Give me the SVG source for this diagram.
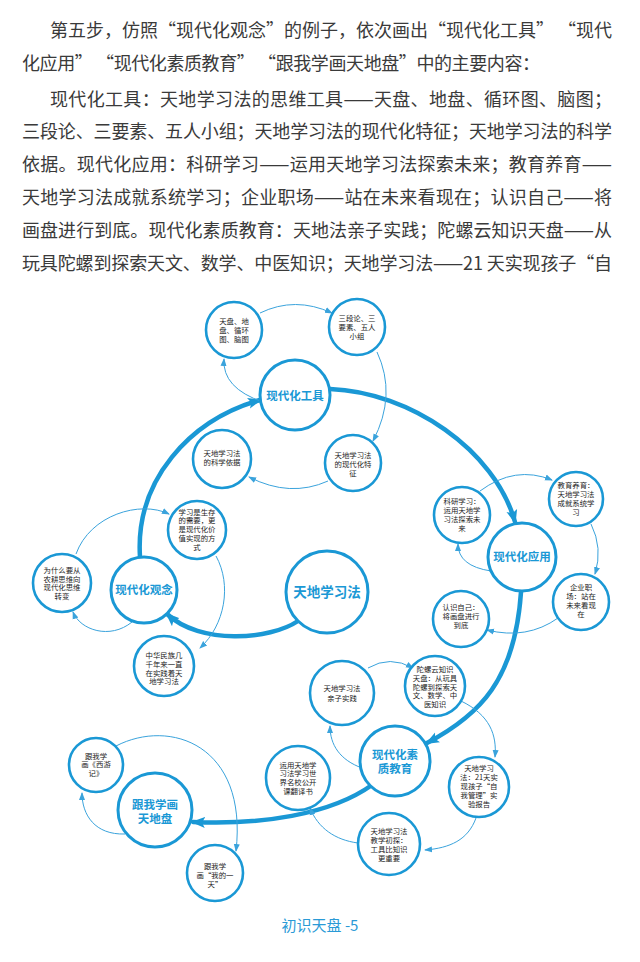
<svg xmlns="http://www.w3.org/2000/svg" width="640" height="962" viewBox="0 0 640 962">
<defs>
<style>
.para{font-family:"Noto Sans CJK SC","Liberation Serif",serif;font-size:18px;fill:#3a3a3a;}
.hub{fill:#fff;stroke:#1a98d5;stroke-width:3;}
.leaf{fill:#fff;stroke:#1a98d5;stroke-width:2.6;}
.ht{font-family:"Noto Sans CJK SC",sans-serif;font-weight:bold;font-size:11.5px;fill:#1a98d5;text-anchor:middle;}
.lt{font-family:"Noto Sans CJK SC",sans-serif;font-size:7.4px;fill:#1a1a1a;text-anchor:middle;}
.thin{fill:none;stroke:#3aa3dc;stroke-width:1;marker-end:url(#ah);}
.thick{fill:none;stroke:#1a98d5;stroke-width:4.5;stroke-linecap:round;marker-end:url(#AH);}
.foot{font-family:"Noto Sans CJK SC",sans-serif;font-size:15px;fill:#2a9ad6;}
</style>
<marker id="ah" markerUnits="userSpaceOnUse" markerWidth="8" markerHeight="8" viewBox="0 0 8 8" refX="7" refY="4" orient="auto"><path d="M0,1 L8,4 L0,7 Z" fill="#3aa3dc"/></marker>
<marker id="AH" markerUnits="userSpaceOnUse" markerWidth="14" markerHeight="12" viewBox="0 0 14 12" refX="12" refY="6" orient="auto"><path d="M0,0.5 L14,6 L0,11.5 L3,6 Z" fill="#1a98d5"/></marker>
</defs>
<rect width="640" height="962" fill="#fff"/>

<g id="paragraph">
<text class="para" x="50" y="37" textLength="562" lengthAdjust="spacing">第五步，仿照“现代化观念”的例子，依次画出“现代化工具”  “现代</text>
<text class="para" x="22" y="70" textLength="518" lengthAdjust="spacing">化应用”  “现代化素质教育”  “跟我学画天地盘”中的主要内容：</text>
<text class="para" x="50" y="106" textLength="562" lengthAdjust="spacing">现代化工具：天地学习法的思维工具——天盘、地盘、循环图、脑图；</text>
<text class="para" x="22" y="138" textLength="590" lengthAdjust="spacing">三段论、三要素、五人小组；天地学习法的现代化特征；天地学习法的科学</text>
<text class="para" x="22" y="171" textLength="590" lengthAdjust="spacing">依据。现代化应用：科研学习——运用天地学习法探索未来；教育养育——</text>
<text class="para" x="22" y="204" textLength="590" lengthAdjust="spacing">天地学习法成就系统学习；企业职场——站在未来看现在；认识自己——将</text>
<text class="para" x="22" y="237" textLength="590" lengthAdjust="spacing">画盘进行到底。现代化素质教育：天地法亲子实践；陀螺云知识天盘——从</text>
<text class="para" x="22" y="270" textLength="590" lengthAdjust="spacing">玩具陀螺到探索天文、数学、中医知识；天地学习法——21 天实现孩子“自</text>
</g>

<g id="connectors">
<!-- main spiral -->
<path class="thick" d="M298,621 C270,640 200,645 167,614"/>
<path class="thick" d="M140,557 C135,480 190,420 260,400"/>
<path class="thick" d="M330,389 C410,392 495,450 515,522"/>
<path class="thick" d="M521,592 C515,680 480,715 427,743"/>
<path class="thick" d="M372,785 C330,815 260,825 193,822"/>
<!-- tools cycle -->
<path class="thin" d="M260,313 Q295,296 332,313"/>
<path class="thin" d="M377,352 Q397,395 373,441"/>
<path class="thin" d="M328,481 Q290,498 249,477"/>
<path class="thin" d="M263,402 Q222,388 224,359"/>
<!-- application cycle -->
<path class="thin" d="M480,491 Q515,465 552,480"/>
<path class="thin" d="M591,524 Q603,548 595,574"/>
<path class="thin" d="M558,618 Q527,640 487,630"/>
<path class="thin" d="M491,571 Q458,566 458,544"/>
<!-- concept cycle -->
<path class="thin" d="M76,554 C90,515 140,500 169,514"/>
<path class="thin" d="M216,556 C232,585 225,625 200,648"/>
<path class="thin" d="M132,622 C110,640 80,630 73,612"/>
<!-- quality education cycle -->
<path class="thin" d="M368,668 Q390,655 413,668"/>
<path class="thin" d="M461,701 C490,715 497,735 495,757"/>
<path class="thin" d="M476,818 C468,840 450,848 425,850"/>
<path class="thin" d="M358,843 C335,840 318,828 310,808"/>
<path class="thin" d="M362,768 C340,760 330,745 330,726"/>
<!-- drawing cycle -->
<path class="thin" d="M125,834 C95,835 82,815 82,793"/>
<path class="thin" d="M116,746 C170,718 248,745 236,851"/>
</g>

<g id="n-tdxxf"><circle class="hub" cx="327" cy="592" r="41"/><text class="ht" x="327" y="597" style="font-size:13.5px">天地学习法</text></g>

<g id="n-gongju"><circle class="hub" cx="295" cy="395" r="35"/><text class="ht" x="295" y="399.5">现代化工具</text></g>
<g id="n-tianpan"><circle class="leaf" cx="234" cy="330" r="28"/><text class="lt" y="323.7"><tspan x="234">天盘、地</tspan><tspan x="234" dy="9">盘、循环</tspan><tspan x="234" dy="9">图、脑图</tspan></text></g>
<g id="n-sanduan"><circle class="leaf" cx="357" cy="327" r="28"/><text class="lt" y="320.5"><tspan x="357">三段论、三</tspan><tspan x="357" dy="9">要素、五人</tspan><tspan x="357" dy="9">小组</tspan></text></g>
<g id="n-tezheng"><circle class="leaf" cx="353" cy="463" r="28"/><text class="lt" y="457.5"><tspan x="353">天地学习法</tspan><tspan x="353" dy="9">的现代化特</tspan><tspan x="353" dy="9">征</tspan></text></g>
<g id="n-yiju"><circle class="leaf" cx="222" cy="459" r="29"/><text class="lt" y="456"><tspan x="222">天地学习法</tspan><tspan x="222" dy="9">的科学依据</tspan></text></g>

<g id="n-yingyong"><circle class="hub" cx="522" cy="557" r="34"/><text class="ht" x="522" y="561">现代化应用</text></g>
<g id="n-keyan"><circle class="leaf" cx="462" cy="515" r="28"/><text class="lt" y="503.5"><tspan x="462">科研学习：</tspan><tspan x="462" dy="9">运用天地学</tspan><tspan x="462" dy="9">习法探索未</tspan><tspan x="462" dy="9">来</tspan></text></g>
<g id="n-jiaoyu"><circle class="leaf" cx="576" cy="499" r="27"/><text class="lt" y="487.7"><tspan x="576">教育养育：</tspan><tspan x="576" dy="9">天地学习法</tspan><tspan x="576" dy="9">成就系统学</tspan><tspan x="576" dy="9">习</tspan></text></g>
<g id="n-qiye"><circle class="leaf" cx="581" cy="602" r="28"/><text class="lt" y="589.5"><tspan x="581">企业职</tspan><tspan x="581" dy="9">场：站在</tspan><tspan x="581" dy="9">未来看现</tspan><tspan x="581" dy="9">在</tspan></text></g>
<g id="n-renshi"><circle class="leaf" cx="461" cy="619" r="28"/><text class="lt" y="609.5"><tspan x="461">认识自己：</tspan><tspan x="461" dy="9">将画盘进行</tspan><tspan x="461" dy="9">到底</tspan></text></g>

<g id="n-guannian"><circle class="hub" cx="144" cy="590" r="33"/><text class="ht" x="144" y="593.5">现代化观念</text></g>
<g id="n-xuexi"><circle class="leaf" cx="197" cy="530" r="29"/><text class="lt" y="514.5"><tspan x="197">学习是生存</tspan><tspan x="197" dy="8.8">的需要，更</tspan><tspan x="197" dy="8.8">是现代化价</tspan><tspan x="197" dy="8.8">值实现的方</tspan><tspan x="197" dy="8.8">式</tspan></text></g>
<g id="n-weishenme"><circle class="leaf" cx="62" cy="583" r="29"/><text class="lt" y="573"><tspan x="62">为什么要从</tspan><tspan x="62" dy="8.6">农耕思维向</tspan><tspan x="62" dy="8.6">现代化思维</tspan><tspan x="62" dy="8.6">转变</tspan></text></g>
<g id="n-zhonghua"><circle class="leaf" cx="164" cy="666" r="30"/><text class="lt" y="657.7"><tspan x="164">中华民族几</tspan><tspan x="164" dy="8.9">千年来一直</tspan><tspan x="164" dy="8.9">在实践着天</tspan><tspan x="164" dy="8.9">地学习法</tspan></text></g>

<g id="n-suzhi"><circle class="hub" cx="395" cy="761" r="35"/><text class="ht" y="759"><tspan x="395">现代化素</tspan><tspan x="395" dy="13.5">质教育</tspan></text></g>
<g id="n-qinzi"><circle class="leaf" cx="342" cy="693" r="32"/><text class="lt" y="691"><tspan x="342">天地学习法</tspan><tspan x="342" dy="10">亲子实践</tspan></text></g>
<g id="n-tuoluo"><circle class="leaf" cx="435" cy="686" r="30"/><text class="lt" y="672"><tspan x="435">陀螺云知识</tspan><tspan x="435" dy="8.8">天盘：从玩具</tspan><tspan x="435" dy="8.8">陀螺到探索天</tspan><tspan x="435" dy="8.8">文、数学、中</tspan><tspan x="435" dy="8.8">医知识</tspan></text></g>
<g id="n-21tian"><circle class="leaf" cx="479" cy="787" r="30"/><text class="lt" y="771"><tspan x="479">天地学习</tspan><tspan x="479" dy="9">法：21天实</tspan><tspan x="479" dy="9">现孩子“自</tspan><tspan x="479" dy="9">我管理”实</tspan><tspan x="479" dy="9">验报告</tspan></text></g>
<g id="n-chutan"><circle class="leaf" cx="389" cy="844" r="31"/><text class="lt" y="834.4"><tspan x="389">天地学习法</tspan><tspan x="389" dy="8.9">教学初探：</tspan><tspan x="389" dy="8.9">工具比知识</tspan><tspan x="389" dy="8.9">更重要</tspan></text></g>
<g id="n-yunyong"><circle class="leaf" cx="298" cy="778" r="32"/><text class="lt" y="767.7"><tspan x="298">运用天地学</tspan><tspan x="298" dy="8.6">习法学习世</tspan><tspan x="298" dy="8.6">界名校公开</tspan><tspan x="298" dy="8.6">课翻译书</tspan></text></g>

<g id="n-genwo"><circle class="hub" cx="155" cy="810" r="37"/><text class="ht" y="809"><tspan x="155">跟我学画</tspan><tspan x="155" dy="13.5">天地盘</tspan></text></g>
<g id="n-xiyou"><circle class="leaf" cx="96" cy="765" r="27"/><text class="lt" y="758.7"><tspan x="96">跟我学</tspan><tspan x="96" dy="8.7">画《西游</tspan><tspan x="96" dy="8.7">记》</tspan></text></g>
<g id="n-yitian"><circle class="leaf" cx="215" cy="873" r="28"/><text class="lt" y="869.4"><tspan x="215">跟我学</tspan><tspan x="215" dy="8.7">画“我的一</tspan><tspan x="215" dy="8.7">天”</tspan></text></g>

<text class="foot" x="320" y="931" text-anchor="middle">初识天盘 -5</text>
</svg>
